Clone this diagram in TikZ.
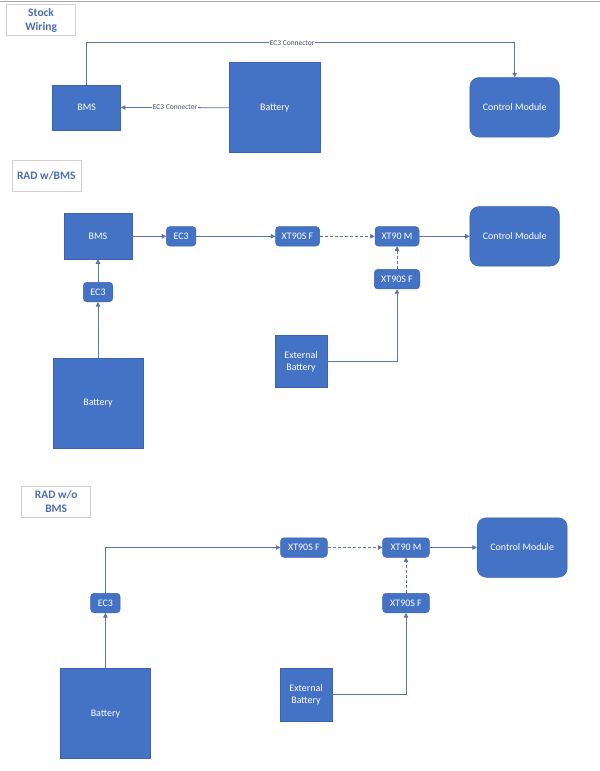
\documentclass[tikz,border=0pt]{standalone}
\usepackage{fontspec}
\setmainfont{Carlito}
\usetikzlibrary{arrows.meta,positioning,calc}
\definecolor{mblue}{HTML}{4472C4}
\definecolor{mblueL}{HTML}{3A64B0}
\definecolor{wire}{HTML}{5874A8}
\definecolor{ttlT}{HTML}{4A6CB0}
\definecolor{ttlL}{HTML}{D0D0D0}
\definecolor{ink}{HTML}{44546A}
\definecolor{rule}{HTML}{A8A8A8}
\tikzset{
  every node/.style={font=\fontsize{10}{12}\selectfont},
  blk/.style ={fill=mblue, draw=mblueL, line width=0.5pt, inner sep=0pt,
               align=center, text=white},
  bat/.style ={blk, minimum width=90.4bp, minimum height=90bp},
  bms/.style ={blk, minimum width=68bp, minimum height=45.5bp},
  ctl/.style ={blk, rounded corners=9bp, minimum width=89.5bp, minimum height=59.5bp},
  con/.style ={blk, rounded corners=3.5bp, minimum height=19.5bp},
  ext/.style ={blk, minimum width=52.4bp, minimum height=52.4bp},
  ttl/.style ={draw=ttlL, line width=0.6pt, text=ttlT, align=center, inner sep=0pt,
               minimum width=69bp, minimum height=31bp,
               font=\fontsize{11.5}{14}\selectfont\bfseries},
  lbl/.style ={font=\fontsize{7.5}{9}\selectfont, text=ink, fill=white, inner sep=1pt},
  ar/.style  ={-{Triangle[length=4.5bp,width=4.5bp]}, line width=0.8pt, draw=wire},
  dar/.style ={ar, dash pattern=on 3bp off 2bp},
}
\begin{document}
\begin{tikzpicture}[x=1bp, y=-1bp]
\useasboundingbox (0,0) rectangle (600,771);
\draw[rule, line width=1.5bp] (0,1.5) -- (600,1.5);

% ============ stock wiring ==================================================
\node[ttl] (ttl1) at (41.1,20.2) {Stock\\Wiring};
\node[bms] (bms1) at (86.7,107.5) {BMS};
\node[bat] (bat1) at (274.8,107.7) {Battery};
\node[ctl] (cm1)  at (514.7,107.3) {Control Module};
\coordinate (top1) at (0,42.7);
\draw[ar] (bat1.west) -- node[lbl, pos=0.5]{EC3 Connector} (bms1.east);
\draw[ar] (bms1.north) -- (bms1.north |- top1)
  -- node[lbl, pos=0.48]{EC3 Connector} (cm1.north |- top1) -- (cm1.north);

% ============ RAD with BMS ==================================================
\node[ttl] (ttl2) at (46.3,176.2) {RAD w/BMS};
\node[bms] (bms2) at (98,236.3) {BMS};
\node[con, minimum width=29.5bp] (ec2)  at (181.2,236.3) {EC3};
\node[con, minimum width=44bp]   (xf2)  at (297.5,236.3) {XT90S F};
\node[con, minimum width=44bp]   (xm2)  at (397,236.3) {XT90 M};
\node[ctl] (cm2) at (514.7,236.3) {Control Module};
\node[con, minimum width=29.5bp] (ecB2) at (98,292) {EC3};
\node[con, minimum width=45.5bp] (xfB2) at (397,279.2) {XT90S F};
\node[ext] (eb2)  at (301,361.5) {External\\Battery};
\node[bat] (bat2) at (98,402.8) {Battery};
\draw[ar]  (bms2.east) -- (ec2.west);
\draw[ar]  (ec2.east) -- (xf2.west);
\draw[dar] (xf2.east) -- (xm2.west);
\draw[ar]  (xm2.east) -- (cm2.west);
\draw[ar]  (bat2.north) -- (ecB2.south);
\draw[ar]  (ecB2.north) -- (bms2.south);
\draw[ar]  (eb2.east) -| (xfB2.south);
\draw[dar] (xfB2.north) -- (xm2.south);

% ============ RAD without BMS ===============================================
\node[ttl] (ttl3) at (56.2,501.3) {RAD w/o\\BMS};
\node[con, minimum width=29.5bp] (ec3)  at (105.4,603) {EC3};
\node[con, minimum width=46.7bp] (xf3)  at (303.9,547.5) {XT90S F};
\node[con, minimum width=46.7bp] (xm3)  at (406,547.5) {XT90 M};
\node[ctl, minimum width=90bp] (cm3) at (522.2,547.5) {Control Module};
\node[con, minimum width=46.7bp] (xfB3) at (406,603) {XT90S F};
\node[ext] (eb3)  at (306,694.7) {External\\Battery};
\node[bat] (bat3) at (105.4,713.7) {Battery};
\draw[ar]  (bat3.north) -- (ec3.south);
\draw[ar]  (ec3.north) |- (xf3.west);
\draw[dar] (xf3.east) -- (xm3.west);
\draw[ar]  (xm3.east) -- (cm3.west);
\draw[ar]  (eb3.east) -| (xfB3.south);
\draw[dar] (xfB3.north) -- (xm3.south);

\end{tikzpicture}
\end{document}
